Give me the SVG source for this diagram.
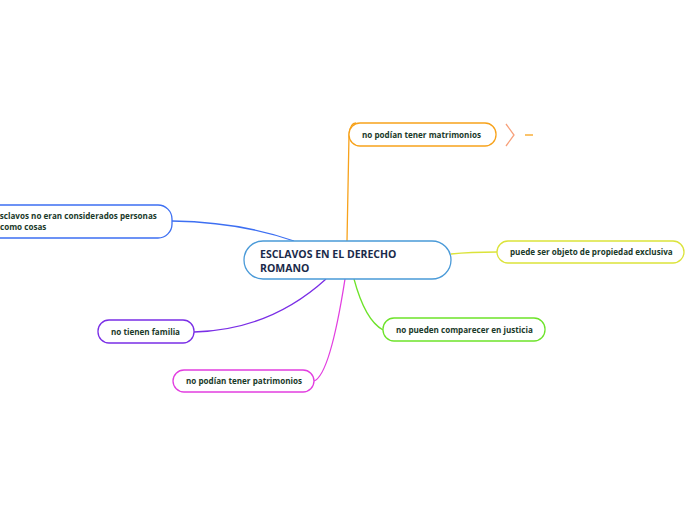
<svg xmlns="http://www.w3.org/2000/svg" width="696" height="520" viewBox="0 0 696 520">
<style>
.n{fill:#fff;stroke-width:1.3}
.t{font-family:"Open Sans",sans-serif;font-size:8.1px;font-weight:700;fill:#1a3a2a}
.c{fill:none;stroke-width:1.3}
</style>
<rect width="696" height="520" fill="#fff"/>
<g id="connectors">
<path class="c" stroke="#f7a21b" d="M347 241 L349 135 Q350 123 356 123"/>
<path class="c" stroke="#3d6ff2" d="M294 241 Q240 222 172 221"/>
<path class="c" stroke="#dbe33a" d="M451 254 Q470 252 497 252"/>
<path class="c" stroke="#6de32a" d="M354 279 Q365 320 383 330"/>
<path class="c" stroke="#7a2ee6" d="M326 279 Q270 330 194 332"/>
<path class="c" stroke="#e23ee0" d="M345 279 Q330 375 314 381"/>
<path class="c" stroke="#f7a07a" d="M506 124 L514 135 L506 146"/>
<path class="c" stroke="#f7a21b" d="M525 135 L533 135"/>
</g>
<g id="central">
<rect class="n" x="244" y="241" width="207" height="38" rx="19" stroke="#4a9ad8"/>
<text font-family="'Open Sans',sans-serif" font-size="10.5" font-weight="700" fill="#1a2a4a"><tspan x="260" y="258">ESCLAVOS EN EL DERECHO</tspan><tspan x="260" y="272">ROMANO</tspan></text>
</g>
<g id="n1"><rect class="n" x="349" y="123" width="147" height="23" rx="11" stroke="#f7a21b"/><text class="t" x="362" y="138">no podían tener matrimonios</text></g>
<g id="n2"><rect class="n" x="-40" y="205" width="212" height="33" rx="14" stroke="#3d6ff2"/><text class="t"><tspan x="-5" y="219">esclavos no eran considerados personas</tspan><tspan x="0" y="230">como cosas</tspan></text></g>
<g id="n3"><rect class="n" x="497" y="241" width="187" height="22" rx="11" stroke="#dbe33a"/><text class="t" x="510" y="255">puede ser objeto de propiedad exclusiva</text></g>
<g id="n4"><rect class="n" x="383" y="318" width="162" height="23" rx="11" stroke="#6de32a"/><text class="t" x="396" y="333">no pueden comparecer en justicia</text></g>
<g id="n5"><rect class="n" x="98" y="320" width="96" height="23" rx="11" stroke="#7a2ee6"/><text class="t" x="111" y="335">no tienen familia</text></g>
<g id="n6"><rect class="n" x="173" y="370" width="141" height="22" rx="11" stroke="#e23ee0"/><text class="t" x="186" y="384">no podían tener patrimonios</text></g>
</svg>
